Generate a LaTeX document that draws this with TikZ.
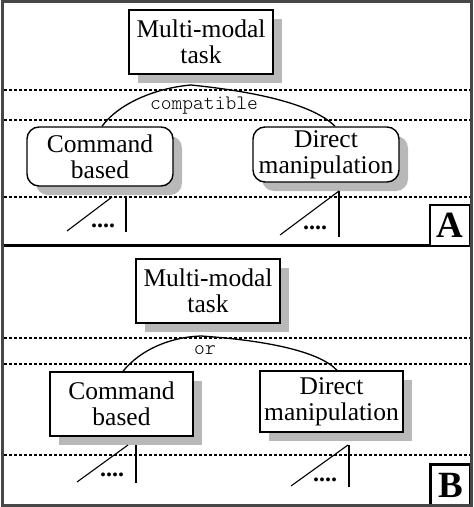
\documentclass[tikz,border=0pt]{standalone}
\usepackage{fontspec}
\setmainfont{Liberation Serif}
\newfontfamily\reltt{lmmonolt10-regular.otf}
\usetikzlibrary{shadows}
\begin{document}
\begin{tikzpicture}[x=1pt,y=-1pt,
  boxfont/.style={font=\fontsize{25.5}{26}\selectfont},
  shad/.style={drop shadow={shadow xshift=9pt,shadow yshift=-9pt,fill=black!28,opacity=1}},
  taskbox/.style={draw,line width=1.4pt,fill=white,shad,boxfont,align=center,inner sep=0pt},
  roundbox/.style={taskbox,rounded corners=12pt},
  sep/.style={dashed,dash pattern=on 3pt off 2pt,line width=1.1pt},
  arcline/.style={line width=1.3pt},
  leg/.style={line width=1.1pt},
  relfont/.style={font=\reltt\fontsize{20.5}{20.5}\selectfont},
  dots/.style={font=\bfseries\fontsize{24}{24}\selectfont,inner sep=0pt},
  tag/.style={draw,line width=2.6pt,fill=white,font=\bfseries\fontsize{37}{37}\selectfont,minimum width=40pt,minimum height=41pt,inner sep=0pt}
]
\useasboundingbox (0,0) rectangle (474,507);
\fill[white] (0,0) rectangle (474,507);
% ---------- Panel A ----------
\draw[sep] (4,90) -- (470,90);
\draw[sep] (4,120) -- (470,120);
\draw[sep] (4,197) -- (470,197);
\node[taskbox,minimum width=144pt,minimum height=64pt] (mtA) at (201,42) {Multi-modal\\task};
\node[roundbox,minimum width=146pt,minimum height=59pt] (cbA) at (100,156.5) {Command\\based};
\node[roundbox,minimum width=146pt,minimum height=55pt] (dmA) at (326,154.5) {Direct\\manipulation};
\coordinate (topA) at (191,85);
\draw[arcline] ([xshift=2pt]cbA.north) .. controls (118,104) and (155,88) .. (topA)
  .. controls (250,91) and (312,103) .. ([xshift=9pt]dmA.north);
\node[relfont] (compA) at (204,106) {compatible};
\coordinate (cbAa) at (112,197); \coordinate (cbAb) at (67,231);
\coordinate (cbAc) at (126,197); \coordinate (cbAd) at (126,232);
\draw[leg] (cbAa) -- (cbAb); \draw[leg] (cbAc) -- (cbAd);
\node[dots] (dotA1) at (103,226) {....};
\coordinate (dmAa) at (339,191); \coordinate (dmAb) at (280,235);
\coordinate (dmAc) at (339,191); \coordinate (dmAd) at (339,237);
\draw[leg] (dmAa) -- (dmAb); \draw[leg] (dmAc) -- (dmAd);
\node[dots] (dotA2) at (315,228) {....};
% ---------- Panel B ----------
\draw[sep] (4,338) -- (470,338);
\draw[sep] (4,364) -- (470,364);
\draw[sep] (4,455) -- (470,455);
\node[taskbox,minimum width=144pt,minimum height=64pt] (mtB) at (208,291) {Multi-modal\\task};
\node[taskbox,minimum width=143pt,minimum height=64pt] (cbB) at (121.5,404) {Command\\based};
\node[taskbox,minimum width=143pt,minimum height=61pt] (dmB) at (331.5,401.5) {Direct\\manipulation};
\coordinate (topB) at (201,336);
\draw[arcline] ([xshift=1.5pt]cbB.north) .. controls (140,350) and (170,337) .. (topB)
  .. controls (260,340) and (318,350) .. ([xshift=5.5pt]dmB.north);
\node[relfont] (orB) at (205,350) {or};
\coordinate (cbBa) at (128,445); \coordinate (cbBb) at (77,482);
\coordinate (cbBc) at (136,445); \coordinate (cbBd) at (136,483);
\draw[leg] (cbBa) -- (cbBb); \draw[leg] (cbBc) -- (cbBd);
\node[dots] (dotB1) at (112,475) {....};
\coordinate (dmBa) at (348,445); \coordinate (dmBb) at (291,486);
\coordinate (dmBc) at (349,445); \coordinate (dmBd) at (349,487);
\draw[leg] (dmBa) -- (dmBb); \draw[leg] (dmBc) -- (dmBd);
\node[dots] (dotB2) at (325,480) {....};
% ---------- frames ----------
\draw[line width=3pt] (2,245.5) -- (472,245.5);
\node[tag] (tagA) at (450,225.5) {A};
\node[tag] (tagB) at (450.5,485) {B};
\draw[line width=3pt,black!72] (2.5,1.5) rectangle (471.5,505.5);
\end{tikzpicture}
\end{document}
